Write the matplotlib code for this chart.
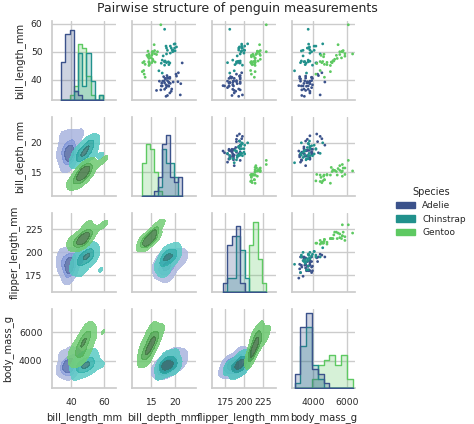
import numpy as np
import pandas as pd
import matplotlib
matplotlib.use("Agg")
import matplotlib.pyplot as plt
import seaborn as sns

# ── Data (approximate penguin measurements, read per species) ─────────────────
adelie_bill_length = [39.1, 39.5, 40.3, 36.7, 39.3, 38.9, 39.2, 34.1, 42.0, 37.8,
                      37.8, 41.1, 38.6, 34.6, 36.6, 38.7, 42.5, 34.4, 46.0, 37.8,
                      37.7, 35.9, 38.2, 38.8, 35.3, 40.6, 40.5, 37.9, 40.5, 39.5,
                      37.2, 39.6, 40.9, 36.4, 41.3, 39.7, 36.2, 40.8, 41.5, 39.0]
adelie_bill_depth = [18.7, 17.4, 18.0, 19.3, 20.6, 17.8, 19.6, 18.1, 20.2, 17.1,
                     17.3, 17.6, 21.2, 21.1, 17.8, 19.0, 20.7, 18.4, 21.5, 18.3,
                     18.7, 19.2, 18.1, 17.2, 18.9, 18.6, 17.9, 18.6, 18.9, 16.7,
                     18.1, 17.7, 18.9, 17.0, 20.3, 18.4, 16.1, 18.4, 18.3, 18.7]
adelie_flipper = [181, 186, 195, 193, 190, 181, 195, 193, 190, 186,
                  180, 182, 191, 198, 185, 195, 197, 184, 194, 174,
                  180, 189, 185, 180, 187, 183, 187, 172, 180, 178,
                  178, 186, 184, 195, 194, 190, 187, 195, 195, 185]
adelie_mass = [3750, 3800, 3250, 3450, 3650, 3625, 4675, 3475, 4250, 3300,
               3700, 3200, 3800, 4400, 3700, 3450, 4500, 3325, 4200, 3400,
               3600, 3800, 3950, 3800, 3800, 3550, 3200, 3150, 3950, 3250,
               3900, 3500, 3900, 3325, 3550, 3900, 3550, 3900, 4300, 3650]

chin_bill_length = [46.5, 50.0, 51.3, 45.4, 52.7, 45.2, 46.1, 51.3, 46.0, 51.3,
                    46.6, 51.7, 47.0, 52.0, 45.9, 50.5, 50.3, 58.0, 46.4, 49.2,
                    42.4, 48.5, 43.2, 50.6, 46.7, 52.0, 50.5, 49.5, 46.4, 52.8]
chin_bill_depth = [17.9, 19.5, 19.2, 18.7, 19.8, 17.8, 18.2, 18.2, 18.9, 19.9,
                   17.8, 20.3, 17.3, 18.1, 17.1, 19.6, 20.0, 17.8, 18.6, 18.2,
                   17.3, 17.5, 16.6, 19.4, 17.9, 19.0, 18.4, 19.0, 17.8, 20.0]
chin_flipper = [192, 196, 193, 188, 197, 198, 178, 197, 195, 198,
                193, 194, 185, 201, 190, 201, 197, 181, 190, 195,
                181, 191, 187, 193, 195, 197, 200, 200, 191, 205]
chin_mass = [3500, 3900, 3650, 3525, 3725, 3950, 3250, 3750, 4150, 3700,
             3800, 3775, 3700, 4050, 3575, 4050, 3300, 3700, 3450, 4400,
             3600, 3400, 2900, 3800, 3300, 4150, 3400, 3800, 3700, 4550]

gentoo_bill_length = [46.1, 50.0, 48.7, 50.0, 47.6, 46.5, 45.4, 46.7, 43.3, 46.8,
                      40.9, 49.0, 45.5, 48.4, 45.8, 49.3, 42.0, 49.2, 46.2, 48.7,
                      50.2, 45.1, 46.5, 46.3, 42.9, 46.1, 47.8, 48.2, 50.0, 47.3,
                      59.6, 49.1, 52.5, 50.4]
gentoo_bill_depth = [13.2, 16.3, 14.1, 15.2, 14.5, 13.5, 14.6, 15.3, 13.4, 15.4,
                     13.7, 16.1, 13.7, 14.6, 14.6, 15.7, 13.5, 15.2, 14.5, 15.1,
                     14.3, 14.5, 14.5, 15.8, 13.1, 15.1, 15.0, 14.3, 15.3, 15.3,
                     17.0, 14.5, 15.6, 15.7]
gentoo_flipper = [211, 230, 210, 218, 215, 210, 211, 219, 209, 215,
                  214, 216, 214, 213, 210, 217, 210, 221, 209, 222,
                  218, 215, 213, 215, 215, 215, 215, 210, 220, 222,
                  230, 212, 221, 222]
gentoo_mass = [4500, 5700, 4450, 5700, 5400, 4550, 4800, 5200, 4400, 5150,
               4650, 5550, 4650, 5850, 4200, 5850, 4150, 6300, 4800, 5350,
               5700, 5000, 4400, 5050, 5000, 5100, 5650, 4600, 5550, 5250,
               6050, 4625, 5450, 5750]

species_names = ["Adelie", "Chinstrap", "Gentoo"]
colors = ["#3b528b", "#21918c", "#5ec962"]

frames = []
for name, bl, bd, fl, bm in [
    ("Adelie", adelie_bill_length, adelie_bill_depth, adelie_flipper, adelie_mass),
    ("Chinstrap", chin_bill_length, chin_bill_depth, chin_flipper, chin_mass),
    ("Gentoo", gentoo_bill_length, gentoo_bill_depth, gentoo_flipper, gentoo_mass),
]:
    frames.append(pd.DataFrame({"bill_length_mm": bl, "bill_depth_mm": bd,
                                "flipper_length_mm": fl, "body_mass_g": bm,
                                "Species": name}))
df = pd.concat(frames, ignore_index=True)

# ── Plot ──────────────────────────────────────────────────────────────────────
sns.set_theme(style="whitegrid", font_scale=0.6)
g = sns.PairGrid(df, hue="Species", hue_order=species_names,
                 palette=colors, height=1.0, aspect=1.0)
g.map_upper(sns.scatterplot, s=4, linewidth=0)
g.map_lower(sns.kdeplot, fill=True, levels=4, thresh=0.05, bw_adjust=1.4, alpha=0.85)
g.map_diag(sns.histplot, element="step", bins=10)
g.add_legend(title="Species")
for ax in g.axes.flat:
    ax.tick_params(pad=1)

fig = g.figure
fig.set_size_inches(4.74, 4.24)
fig.subplots_adjust(left=0.11, right=0.75, bottom=0.085, top=0.95,
                    wspace=0.25, hspace=0.22)
g._legend.set_bbox_to_anchor((1.0, 0.5))
plt.setp(g._legend.get_texts(), fontsize=6.5)
g._legend.get_title().set_fontsize(7)
fig.suptitle("Pairwise structure of penguin measurements", fontsize=9, y=0.995)
fig.savefig("out.png", dpi=100)
